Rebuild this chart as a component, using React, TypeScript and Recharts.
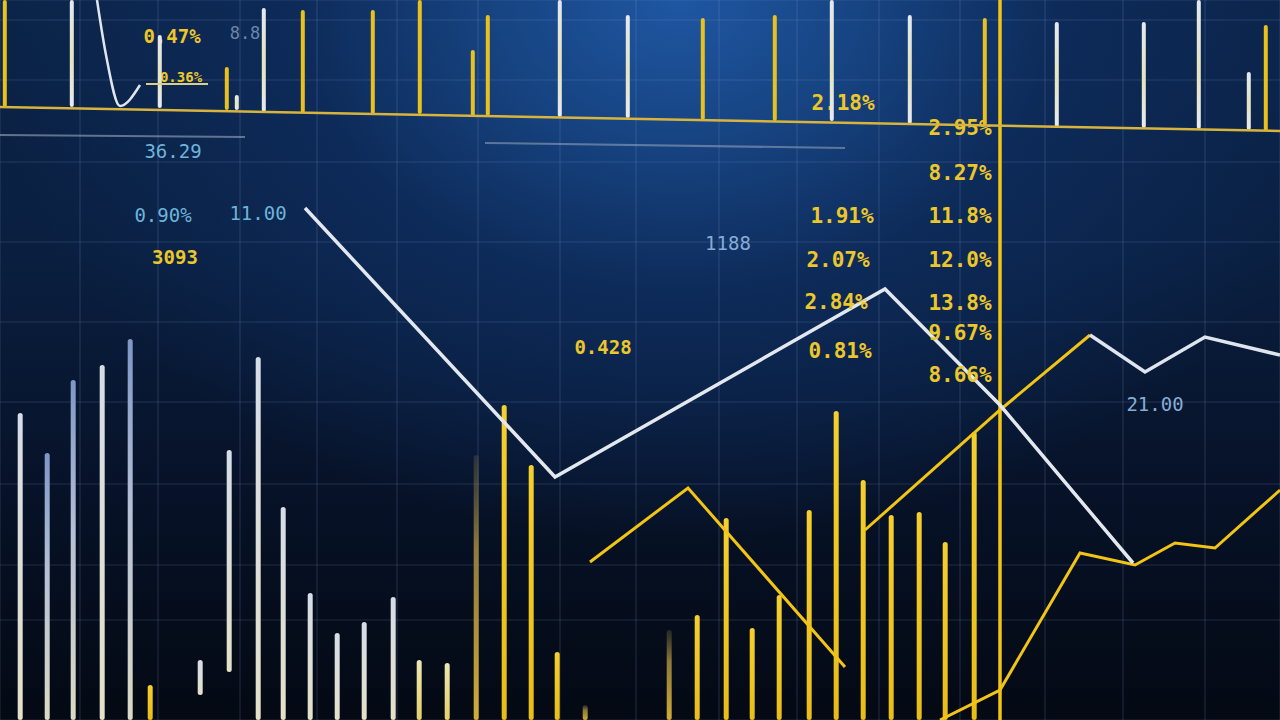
import { ComposedChart, Bar, Line, Cell, XAxis, YAxis, CartesianGrid, ReferenceLine, ReferenceDot } from 'recharts'

const W = 1280
const H = 720

// time runs 0..1280, level runs 0..720 (0 = bottom edge)

// lower panel sticks: [from, to] levels
const whiteSticks = [
  { t: 20, lo: 0, hi: 307 },
  { t: 102, lo: 0, hi: 355 },
  { t: 200, lo: 25, hi: 60 },
  { t: 229, lo: 48, hi: 270 },
  { t: 258, lo: 0, hi: 363 },
  { t: 283, lo: 0, hi: 213 },
  { t: 310, lo: 0, hi: 127 },
  { t: 337, lo: 0, hi: 87 },
  { t: 364, lo: 0, hi: 98 },
  { t: 393, lo: 0, hi: 123 },
]
const blueSticks = [
  { t: 47, lo: 0, hi: 267 },
  { t: 73, lo: 0, hi: 340 },
  { t: 130, lo: 0, hi: 381 },
]
const paleSticks = [
  { t: 419, lo: 0, hi: 60 },
  { t: 447, lo: 0, hi: 57 },
]
const goldSticks = [
  { t: 150, lo: 0, hi: 35 },
  { t: 504, lo: 0, hi: 315 },
  { t: 531, lo: 0, hi: 255 },
  { t: 557, lo: 0, hi: 68 },
  { t: 697, lo: 0, hi: 105 },
  { t: 726, lo: 0, hi: 202 },
  { t: 752, lo: 0, hi: 92 },
  { t: 779, lo: 0, hi: 125 },
  { t: 809, lo: 0, hi: 210 },
  { t: 836, lo: 0, hi: 309 },
  { t: 863, lo: 0, hi: 240 },
  { t: 891, lo: 0, hi: 205 },
  { t: 919, lo: 0, hi: 208 },
  { t: 945, lo: 0, hi: 178 },
  { t: 974, lo: 0, hi: 288 },
]
const fadedSticks = [
  { t: 476, lo: 0, hi: 265 },
  { t: 585, lo: 0, hi: 15 },
  { t: 669, lo: 0, hi: 90 },
]

// upper ticker band sticks
const bandGold = [
  { t: 5, lo: 613, hi: 720 },
  { t: 227, lo: 610, hi: 653 },
  { t: 303, lo: 607, hi: 710 },
  { t: 373, lo: 606, hi: 710 },
  { t: 420, lo: 606, hi: 720 },
  { t: 473, lo: 604, hi: 670 },
  { t: 488, lo: 604, hi: 705 },
  { t: 703, lo: 600, hi: 702 },
  { t: 775, lo: 599, hi: 705 },
  { t: 985, lo: 595, hi: 702 },
  { t: 1266, lo: 589, hi: 695 },
]
const bandWhite = [
  { t: 72, lo: 613, hi: 720 },
  { t: 160, lo: 612, hi: 685 },
  { t: 237, lo: 610, hi: 625 },
  { t: 264, lo: 608, hi: 712 },
  { t: 560, lo: 603, hi: 720 },
  { t: 628, lo: 602, hi: 705 },
  { t: 832, lo: 599, hi: 720 },
  { t: 910, lo: 596, hi: 705 },
  { t: 1057, lo: 593, hi: 698 },
  { t: 1144, lo: 592, hi: 698 },
  { t: 1199, lo: 591, hi: 720 },
  { t: 1249, lo: 590, hi: 648 },
]

// trend lines
const whiteTrend = [
  { t: 305, v: 512 }, { t: 555, v: 243 }, { t: 885, v: 431 }, { t: 1000, v: 315 }, { t: 1133, v: 157 },
]
const whiteTail = [
  { t: 1090, v: 385 }, { t: 1145, v: 348 }, { t: 1205, v: 383 }, { t: 1280, v: 365 },
]
const goldA = [
  { t: 590, v: 158 }, { t: 688, v: 232 }, { t: 845, v: 53 },
]
const goldB = [
  { t: 865, v: 190 }, { t: 1000, v: 310 }, { t: 1090, v: 385 },
]
const goldC = [
  { t: 940, v: 0 }, { t: 1000, v: 30 }, { t: 1080, v: 167 }, { t: 1135, v: 155 },
  { t: 1175, v: 177 }, { t: 1215, v: 172 }, { t: 1280, v: 230 },
]
const bandBase = [{ t: 0, v: 613 }, { t: 1280, v: 589 }]
const bandCurve = [{ t: 97, v: 720 }, { t: 106, v: 665 }, { t: 120, v: 614 }, { t: 140, v: 635 }]
const ruleLeft = [{ t: 0, v: 585 }, { t: 245, v: 583 }]
const ruleMid = [{ t: 485, v: 577 }, { t: 845, v: 572 }]
const underline = [{ t: 146, v: 636 }, { t: 208, v: 636 }]

const tickerLabels = [
  { t: 172, v: 684, text: '0.47%', tone: 'gold', size: 19 },
  { t: 181, v: 643, text: '0.36%', tone: 'gold', size: 14 },
  { t: 245, v: 687, text: '8.8', tone: 'dim', size: 17 },
  { t: 173, v: 569, text: '36.29', tone: 'cyan', size: 19 },
  { t: 163, v: 505, text: '0.90%', tone: 'cyan', size: 19 },
  { t: 258, v: 507, text: '11.00', tone: 'cyan', size: 19 },
  { t: 175, v: 463, text: '3093', tone: 'gold', size: 19 },
  { t: 728, v: 477, text: '1188', tone: 'blue', size: 19 },
  { t: 603, v: 373, text: '0.428', tone: 'gold', size: 19 },
  { t: 843, v: 617, text: '2.18%', tone: 'gold', size: 21 },
  { t: 960, v: 592, text: '2.95%', tone: 'gold', size: 21 },
  { t: 960, v: 547, text: '8.27%', tone: 'gold', size: 21 },
  { t: 842, v: 504, text: '1.91%', tone: 'gold', size: 21 },
  { t: 960, v: 504, text: '11.8%', tone: 'gold', size: 21 },
  { t: 838, v: 460, text: '2.07%', tone: 'gold', size: 21 },
  { t: 960, v: 460, text: '12.0%', tone: 'gold', size: 21 },
  { t: 836, v: 418, text: '2.84%', tone: 'gold', size: 21 },
  { t: 960, v: 417, text: '13.8%', tone: 'gold', size: 21 },
  { t: 840, v: 369, text: '0.81%', tone: 'gold', size: 21 },
  { t: 960, v: 387, text: '9.67%', tone: 'gold', size: 21 },
  { t: 960, v: 345, text: '8.66%', tone: 'gold', size: 21 },
  { t: 1155, v: 316, text: '21.00', tone: 'blue', size: 19 },
]

const gridT = [80, 158, 240, 317, 397, 478, 560, 636, 719, 797, 879, 960, 1045, 1123, 1205]
const gridV = [6, 100, 155, 236, 318, 398, 478, 558, 640, 700]

const TONE: Record<string, string> = {
  gold: '#ecc72a',
  cyan: '#6db4da',
  blue: '#86acd6',
  dim: '#6f86aa',
}

const FILL: Record<string, string> = {
  white: 'url(#stickWhite)',
  blue: 'url(#stickBlue)',
  pale: 'url(#stickPale)',
  gold: 'url(#stickGold)',
  faded: 'url(#stickFaded)',
  bandGold: '#e8c020',
  bandWhite: 'url(#bandWhite)',
}

const tag = (rows: { t: number; lo: number; hi: number }[], group: string) =>
  rows.map((r) => ({ t: r.t, range: [r.lo, r.hi], group }))

const lowerTable = [
  ...tag(whiteSticks, 'white'),
  ...tag(blueSticks, 'blue'),
  ...tag(paleSticks, 'pale'),
  ...tag(goldSticks, 'gold'),
  ...tag(fadedSticks, 'faded'),
].sort((a, b) => a.t - b.t)

const bandTable = [...tag(bandGold, 'bandGold'), ...tag(bandWhite, 'bandWhite')].sort((a, b) => a.t - b.t)

// thin rounded stick centred on the slot the library gives us
const stick = (w: number) => (p: any) => {
  const { x, y, width, height, fill } = p
  if (height == null || height <= 0) return <g />
  return <rect x={x + width / 2 - w / 2} y={y} width={w} height={height} rx={w / 2} fill={fill} />
}

const axes = (
  <>
    <XAxis type="number" dataKey="t" domain={[0, W]} ticks={gridT} hide allowDataOverflow />
    <YAxis type="number" domain={[0, H]} ticks={gridV} hide allowDataOverflow />
  </>
)

const labelFont = 'DejaVu Sans Mono, monospace'

export default function App() {
  return (
    <div
      style={{
        position: 'fixed',
        left: 0,
        top: 0,
        width: W,
        height: H,
        overflow: 'hidden',
        background:
          'radial-gradient(ellipse 55% 75% at 53% 0%, #1f57a3 0%, #16427f 28%, #0d2a58 55%, rgba(9,26,52,0) 100%), linear-gradient(180deg, #0b2347 0%, #0a1f40 35%, #07132a 65%, #040913 100%)',
      }}
    >
      <div style={{ position: 'absolute', left: 0, top: 0 }}>
        <ComposedChart width={W} height={H} data={lowerTable} margin={{ top: 0, right: 0, bottom: 0, left: 0 }}>
          <defs>
            <linearGradient id="stickWhite" x1="0" y1="0" x2="0" y2="1">
              <stop offset="0%" stopColor="#d6dde8" />
              <stop offset="100%" stopColor="#e4e1c8" />
            </linearGradient>
            <linearGradient id="stickBlue" x1="0" y1="0" x2="0" y2="1">
              <stop offset="0%" stopColor="#7f97c6" />
              <stop offset="45%" stopColor="#b6c0d6" />
              <stop offset="100%" stopColor="#dcdac4" />
            </linearGradient>
            <linearGradient id="stickPale" x1="0" y1="0" x2="0" y2="1">
              <stop offset="0%" stopColor="#ece6b4" />
              <stop offset="100%" stopColor="#e6d06a" />
            </linearGradient>
            <linearGradient id="stickGold" x1="0" y1="0" x2="0" y2="1">
              <stop offset="0%" stopColor="#f5cf2e" />
              <stop offset="100%" stopColor="#e9bd18" />
            </linearGradient>
            <linearGradient id="stickFaded" x1="0" y1="0" x2="0" y2="1">
              <stop offset="0%" stopColor="#8a7a45" stopOpacity={0.25} />
              <stop offset="35%" stopColor="#b09440" stopOpacity={0.8} />
              <stop offset="100%" stopColor="#d2ac38" stopOpacity={1} />
            </linearGradient>
          </defs>
          <CartesianGrid stroke="#8aa6d0" strokeOpacity={0.2} strokeWidth={1.2} />
          {axes}
          <Bar dataKey="range" shape={stick(5)} isAnimationActive={false}>
            {lowerTable.map((d, i) => (
              <Cell key={`s-${i}`} fill={FILL[d.group]} />
            ))}
          </Bar>
          <ReferenceLine x={1000} stroke="#f2c416" strokeWidth={3.5} />
          <Line data={goldA} dataKey="v" type="linear" stroke="#f2c416" strokeWidth={3} dot={false} isAnimationActive={false} />
          <Line data={goldB} dataKey="v" type="linear" stroke="#f2c416" strokeWidth={3} dot={false} isAnimationActive={false} />
          <Line data={goldC} dataKey="v" type="linear" stroke="#f2c416" strokeWidth={3} dot={false} isAnimationActive={false} />
          <Line data={whiteTrend} dataKey="v" type="linear" stroke="#e3e8ef" strokeWidth={3.5} dot={false} isAnimationActive={false} />
          <Line data={whiteTail} dataKey="v" type="linear" stroke="#dfe5ee" strokeWidth={3.5} dot={false} isAnimationActive={false} />
          {tickerLabels.map((l, i) => (
            <ReferenceDot
              key={`l-${i}`}
              x={l.t}
              y={l.v}
              r={0}
              stroke="none"
              label={{
                value: l.text,
                position: 'center',
                fill: TONE[l.tone],
                fontSize: l.size,
                fontWeight: l.tone === 'gold' ? 700 : 400,
                fontFamily: labelFont,
              }}
            />
          ))}
        </ComposedChart>
      </div>
      <div style={{ position: 'absolute', left: 0, top: 0 }}>
        <ComposedChart width={W} height={H} data={bandTable} margin={{ top: 0, right: 0, bottom: 0, left: 0 }}>
          <defs>
            <linearGradient id="bandWhite" x1="0" y1="0" x2="0" y2="1">
              <stop offset="0%" stopColor="#e4e9f0" />
              <stop offset="55%" stopColor="#e6e4c0" />
              <stop offset="100%" stopColor="#e8eaf0" />
            </linearGradient>
          </defs>
          {axes}
          <Line data={ruleLeft} dataKey="v" stroke="#9aa8c0" strokeOpacity={0.6} strokeWidth={2} dot={false} isAnimationActive={false} />
          <Line data={ruleMid} dataKey="v" stroke="#9aa8c0" strokeOpacity={0.55} strokeWidth={2} dot={false} isAnimationActive={false} />
          <Line data={underline} dataKey="v" stroke="#d9cf8a" strokeWidth={2} dot={false} isAnimationActive={false} />
          <Line data={bandCurve} dataKey="v" type="monotone" stroke="#e1e6ee" strokeWidth={2.5} dot={false} isAnimationActive={false} />
          <Bar dataKey="range" shape={stick(4)} isAnimationActive={false}>
            {bandTable.map((d, i) => (
              <Cell key={`b-${i}`} fill={FILL[d.group]} />
            ))}
          </Bar>
          <Line data={bandBase} dataKey="v" stroke="#d8b43c" strokeWidth={2.5} dot={false} isAnimationActive={false} />
        </ComposedChart>
      </div>
    </div>
  )
}
